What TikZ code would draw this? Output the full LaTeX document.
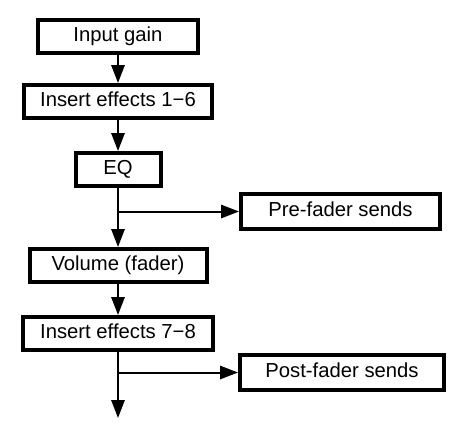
\documentclass[tikz,border=0pt]{standalone}
\usepackage{fontspec}
\setmainfont{Liberation Sans}
\usetikzlibrary{arrows.meta}

\begin{document}
\begin{tikzpicture}[x=0.75pt,y=0.75pt,yscale=-1,xscale=1,
  stage/.style={draw, line width=3pt, inner sep=0pt, minimum height=24.75pt,
    text height=10.9pt, text depth=3pt, font=\fontsize{15.2}{18}\selectfont},
  send/.style={stage, minimum height=26.25pt},
  flow/.style={line width=1.5pt, -{Triangle[length=13.5pt,width=10pt]}}]
\useasboundingbox (0,0) rectangle (474,437);

%Shape: Rectangle (main chain)
\node [stage, minimum width=120pt] (ingain) at (118,36.5) {Input gain};
\node [stage, minimum width=141pt] (ins16) at (118,101.5) {Insert effects 1−6};
\node [stage, minimum width=63.75pt] (eq) at (118,169.5) {EQ};
\node [stage, minimum width=132.75pt] (vol) at (118,265.5) {Volume (fader)};
\node [stage, minimum width=142.5pt] (ins78) at (118,333.5) {Insert effects 7−8};
%Shape: Rectangle (sends)
\node [send, minimum width=149.25pt] (pre) at (340.5,211.5) {Pre-fader sends};
\node [send, minimum width=153pt] (post) at (342,372.5) {Post-fader sends};

%Coordinates
\coordinate (prebranch) at (eq |- pre);
\coordinate (postbranch) at (ins78 |- post);
\coordinate (out) at (118,418);

%Straight Lines
\draw [flow] (ingain) -- (ins16);
\draw [flow] (ins16) -- (eq);
\draw [flow] (eq) -- (vol);
\draw [flow] (vol) -- (ins78);
\draw [flow] (ins78) -- (out);
%Straight Lines (branches)
\draw [flow] (prebranch) -- (pre);
\draw [flow] (postbranch) -- (post);

\end{tikzpicture}
\end{document}
